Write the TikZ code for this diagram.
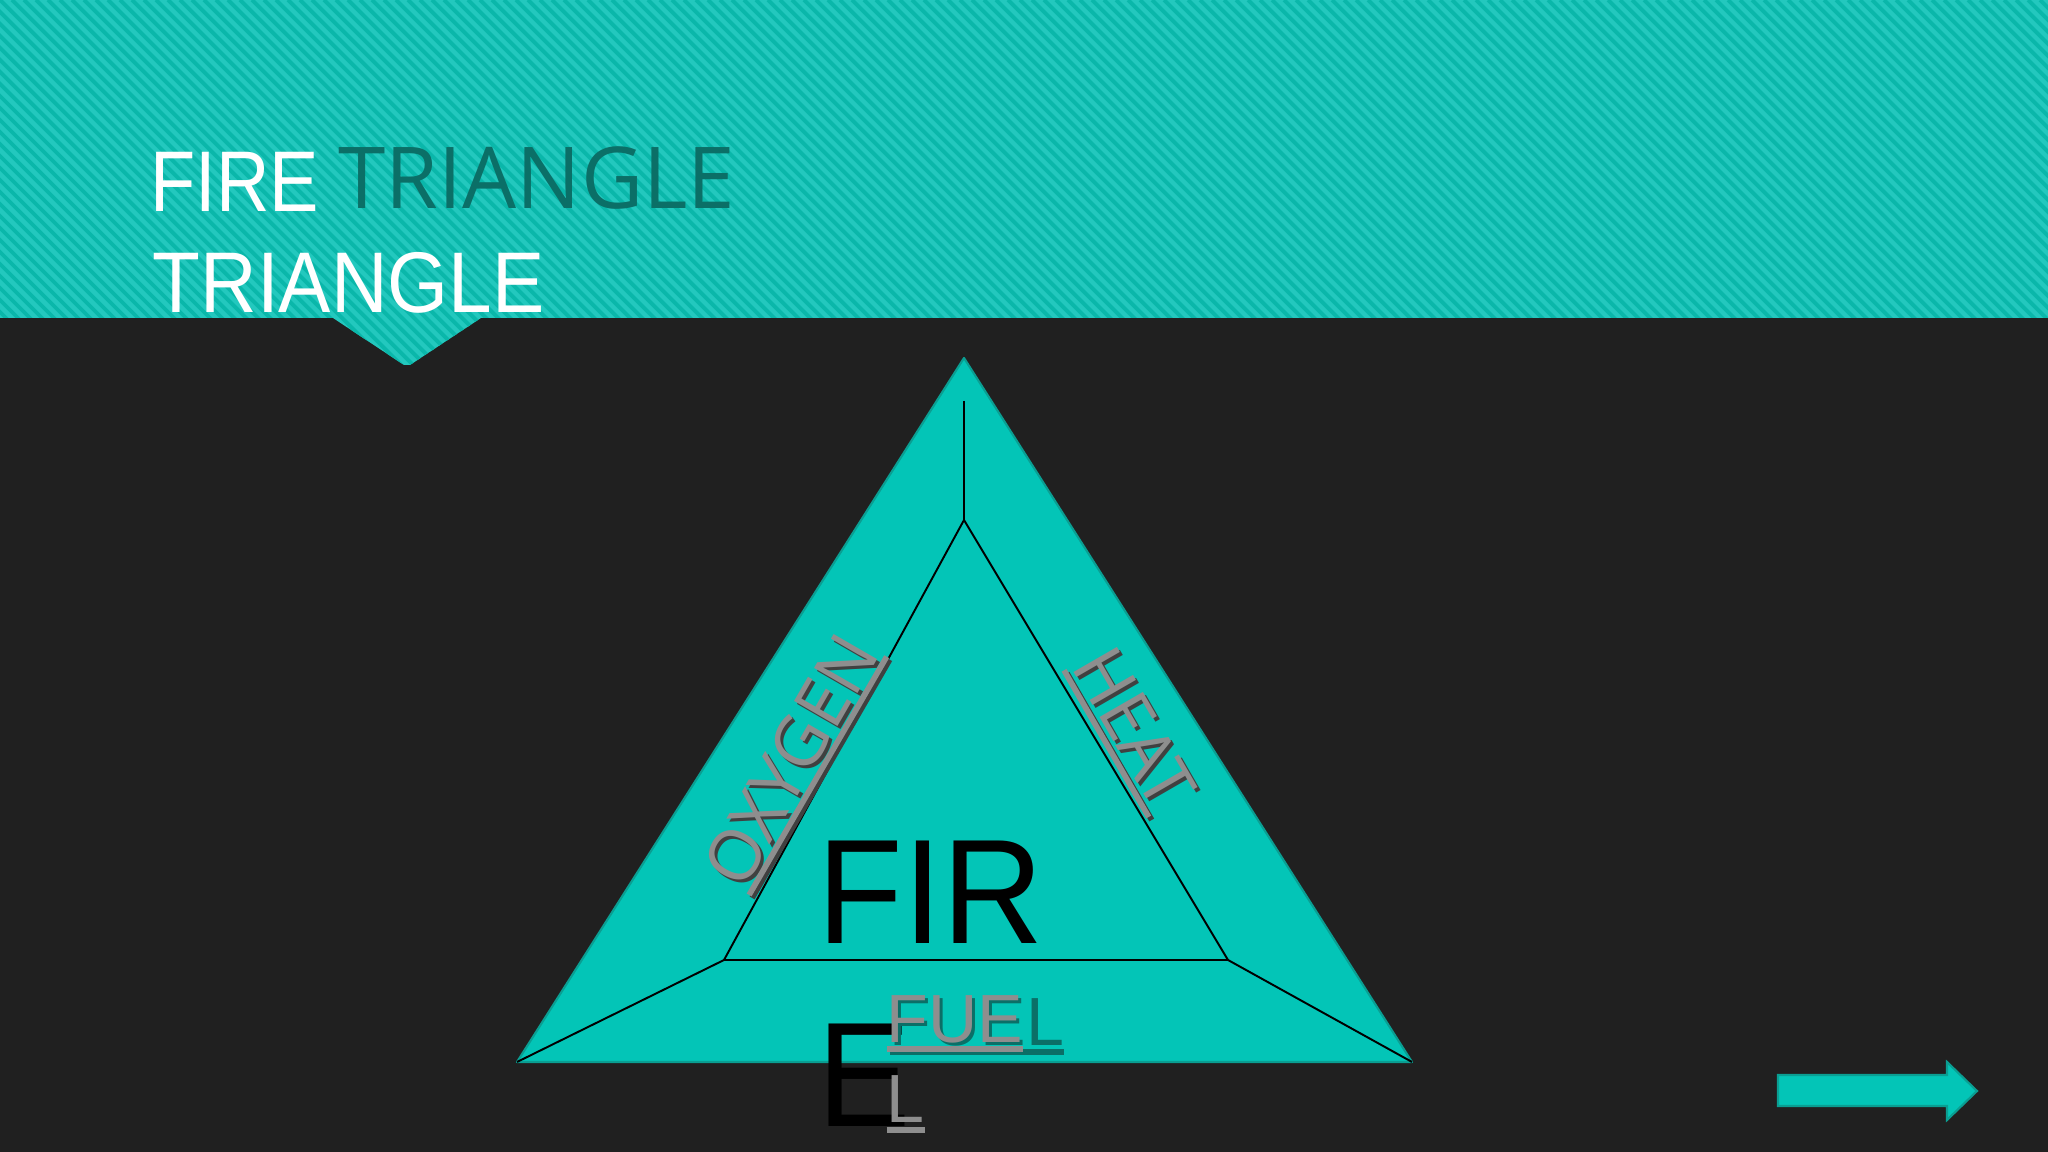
\documentclass[tikz,border=0pt]{standalone}
\usepackage{fontspec}
\setmainfont{Liberation Sans}
\newfontfamily\lightfont{Open Sans}
\usepackage{tikz}
\definecolor{bgdark}{HTML}{202020}
\definecolor{tealfill}{HTML}{03C5B7}
\definecolor{tealedge}{HTML}{0A9E92}
\definecolor{bandbase}{HTML}{23C8BE}
\definecolor{bandline}{HTML}{0AB7AA}
\definecolor{labgray}{HTML}{8E8E8E}
\definecolor{shadeteal}{HTML}{0B6F67}
\newcommand{\ulword}[1]{\setbox0\hbox{#1}\rlap{\rule[-0.14em]{\wd0}{0.08em}}\box0}
\tikzset{
	face/.style={fill=tealfill,draw=tealedge,line width=0.6pt,line join=round},
	seam/.style={draw=black,line width=0.55pt},
	stripe/.style={draw=bandline,line width=1.1pt},
	side/.style 2 args={font=\lightfont\fontsize{20}{20}\selectfont,text=#1,rotate=#2,inner sep=0pt},
	word/.style={anchor=base west,inner sep=0pt,align=left}
}
\begin{document}
\begin{tikzpicture}[x=0.1mm,y=-0.1mm]
	\fill[bgdark] (0,0) rectangle (2048,1152);
	\useasboundingbox (0,0) rectangle (2048,1152);

	\begin{scope}
		\clip (0,0) -- (2048,0) -- (2048,318) -- (481,318) -- (410,365) -- (404,365) -- (333,318) -- (0,318) -- cycle;
		\fill[bandbase] (0,0) rectangle (2048,380);
		\foreach \s in {-384,-372,...,2048}
			\draw[stripe] (\s,0) -- ++(380,380);
	\end{scope}

	\node[word,text=shadeteal,font=\lightfont\fontsize{24.3}{24.3}\selectfont] (shade) at (338,209) {TRIANGLE};
	\node[word,text=white,font=\fontsize{24.5}{24.5}\selectfont,xscale=0.86] (title1) at (150,212) {FIRE};
	\node[word,text=white,font=\fontsize{24.5}{24.5}\selectfont,xscale=0.91] (title2) at (152,313) {TRIANGLE};

	\coordinate (otop) at (964,358);
	\coordinate (oleft) at (517,1062);
	\coordinate (oright) at (1412,1062);
	\coordinate (itop) at (964,520);
	\coordinate (ileft) at (724,960);
	\coordinate (iright) at (1228,960);
	\coordinate (tstart) at (964,401);

	\draw[face] (otop) -- (oleft) -- (oright) -- cycle;
	\draw[seam] (itop) -- (ileft) -- (iright) -- cycle;
	\draw[seam] (tstart) -- (itop);
	\draw[seam] (oleft) -- (ileft);
	\draw[seam] (oright) -- (iright);

	\node[side={black!75}{60}] (oxyshade) at (797,765) {\ulword{OXYGEN}};
	\node[side={labgray}{60}] (oxygen) at (794,762) {\ulword{OXYGEN}};
	\node[side={black!75}{-60}] (heatshade) at (1133,733) {\ulword{HEAT}};
	\node[side={labgray}{-60}] (heat) at (1130,730) {\ulword{HEAT}};

	\node[word,font=\fontsize{42.4}{52}\selectfont,xscale=0.94] (fire) at (817,1126) {FIR\\E};
	\node[word,text=shadeteal,font=\fontsize{19.4}{23}\selectfont] (fuelshade) at (889,1045) {\ulword{FUEL}};
	\node[word,text=labgray,font=\fontsize{19.4}{23}\selectfont] (fuel) at (886,1123) {\ulword{FUE}\\\ulword{L}};

	\fill[tealfill,draw=tealedge,line width=0.6pt] (1778,1075) -- (1947,1075) -- (1947,1062) -- (1977,1091) -- (1947,1120) -- (1947,1106) -- (1778,1106) -- cycle;
\end{tikzpicture}
\end{document}
